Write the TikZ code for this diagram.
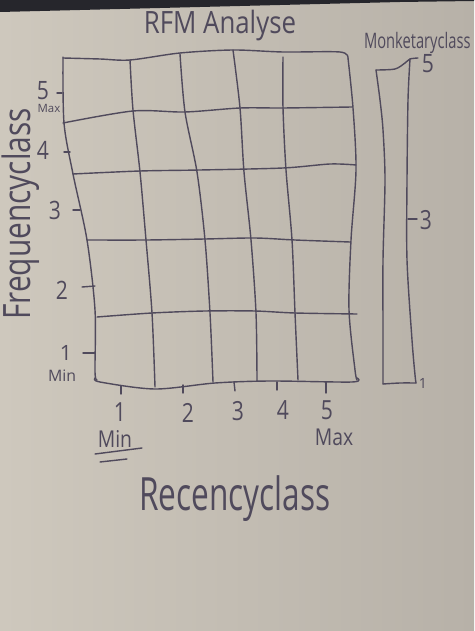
\documentclass[tikz,border=0pt]{standalone}
\usepackage{fontspec}
\usepackage{graphicx}
\setmainfont{Open Sans}
\definecolor{paperL}{RGB}{206,200,189}
\definecolor{paperR}{RGB}{183,177,168}
\definecolor{ink}{RGB}{80,74,92}
\definecolor{band}{RGB}{38,38,44}
\begin{document}
\begin{tikzpicture}[x=0.02cm,y=-0.02cm,
  pen/.style={draw=ink, line width=0.8pt, line cap=round, line join=round},
  lbl/.style={text=ink, inner sep=0pt, outer sep=0pt}]
\useasboundingbox (0,0) rectangle (474,631);
\shade[left color=paperL, right color=paperR] (0,0) rectangle (474,631);
\fill[band] (0,0) -- (474,0) -- (474,1) -- (400,2) -- (200,7) -- (0,12) -- cycle;

% title
\node[lbl, font=\fontsize{14}{16}\selectfont] (title) at (220,26) {\scalebox{1.05}[1.25]{RFM Analyse}};

% grid outline
\draw[pen] plot[smooth] coordinates {(63,58) (100,59) (130,60) (180,53) (233,50) (283,52) (340,52) (348,58)};
\draw[pen] plot[smooth] coordinates {(63,57) (64,123) (73,174) (87,240) (95,310) (95,372) (97,380)};
\draw[pen] plot[smooth] coordinates {(95,378) (100,382) (155,389) (215,383) (270,381) (352,382) (357,378)};
\draw[pen] plot[smooth] coordinates {(348,58) (353,108) (356,170) (351,240) (349,310) (355,370) (357,380)};
% horizontal grid lines
\draw[pen] plot[smooth] coordinates {(63,123) (133,111) (185,112) (240,108) (283,108) (352,107)};
\draw[pen] plot[smooth] coordinates {(73,174) (140,171) (200,170) (283,168) (330,164) (356,165)};
\draw[pen] plot[smooth] coordinates {(87,240) (146,240) (205,239) (255,238) (295,240) (350,242)};
\draw[pen] plot[smooth] coordinates {(97,317) (152,313) (205,311) (255,311) (295,313) (357,314)};
% vertical grid lines
\draw[pen] plot[smooth] coordinates {(130,60) (133,110) (140,172) (146,240) (152,313) (155,387)};
\draw[pen] plot[smooth] coordinates {(180,54) (185,112) (197,172) (205,240) (210,313) (213,382)};
\draw[pen] plot[smooth] coordinates {(233,50) (240,108) (244,172) (251,240) (256,313) (257,381)};
\draw[pen] plot[smooth] coordinates {(283,57) (283,108) (286,170) (292,240) (295,313) (298,380)};

% y ticks and labels
\coordinate (ya5) at (57,93); \coordinate (yb5) at (62,93);
\coordinate (ya4) at (64,152); \coordinate (yb4) at (70,152);
\coordinate (ya3) at (73,210); \coordinate (yb3) at (80,210);
\coordinate (ya2) at (82,287); \coordinate (yb2) at (95,286);
\coordinate (ya1) at (83,353); \coordinate (yb1) at (95,353);
\foreach \i in {1,...,5} {\draw[pen] (ya\i) -- (yb\i);}
\begin{scope}[lbl/.append style={font=\fontsize{12}{14}\selectfont}]
\node[lbl] (y5) at (43,91) {\scalebox{1}[1.2]{5}};
\node[lbl] (y4) at (43,150) {\scalebox{1}[1.2]{4}};
\node[lbl] (y3) at (55,210) {\scalebox{1}[1.2]{3}};
\node[lbl] (y2) at (62,290) {\scalebox{1}[1.2]{2}};
\node[lbl] (y1) at (66,353) {1};
\end{scope}
\node[lbl, font=\fontsize{6.5}{8}\selectfont] (ymax) at (49,108) {Max};
\node[lbl, font=\fontsize{9}{10}\selectfont] (ymin) at (62,376) {Min};

% x ticks and labels
\coordinate (xa1) at (121,386); \coordinate (xb1) at (121,394);
\coordinate (xa2) at (183,385); \coordinate (xb2) at (183,393);
\coordinate (xa3) at (234,382); \coordinate (xb3) at (235,391);
\coordinate (xa4) at (277,382); \coordinate (xb4) at (277,390);
\coordinate (xa5) at (326,382); \coordinate (xb5) at (326,393);
\foreach \i in {1,...,5} {\draw[pen] (xa\i) -- (xb\i);}
\begin{scope}[lbl/.append style={font=\fontsize{12}{14}\selectfont}]
\node[lbl] (x1) at (120,412) {\scalebox{1}[1.25]{1}};
\node[lbl] (x2) at (188,413) {\scalebox{1}[1.25]{2}};
\node[lbl] (x3) at (238,411) {\scalebox{1}[1.25]{3}};
\node[lbl] (x4) at (283,410) {\scalebox{1}[1.25]{4}};
\node[lbl] (x5) at (327,410) {\scalebox{1}[1.25]{5}};
\end{scope}
\node[lbl, font=\fontsize{11}{13}\selectfont] (xmin) at (115,439) {\scalebox{1}[1.2]{Min}};
\node[lbl, font=\fontsize{11}{13}\selectfont] (xmax) at (334,437) {\scalebox{1}[1.2]{Max}};
\coordinate (u1a) at (95,454); \coordinate (u1b) at (142,448);
\coordinate (u2a) at (100,462); \coordinate (u2b) at (127,459);
\draw[pen] (u1a) -- (u1b);
\draw[pen] (u2a) -- (u2b);

% axis titles
\node[lbl, font=\fontsize{18}{20}\selectfont] (rec) at (235,499) {\scalebox{1}[1.45]{Recencyclass}};
\node[lbl, font=\fontsize{16.5}{18}\selectfont, rotate=90] (freq) at (21,214) {\scalebox{1.03}[1.3]{Frequencyclass}};

% monetary bar
\node[lbl, font=\fontsize{9}{11}\selectfont, anchor=west] (mon) at (364,43) {\scalebox{0.93}[1.35]{Monketaryclass}};
\draw[pen] plot[smooth] coordinates {(376,70) (380,100) (383,130) (385,180) (383,260) (383,330) (383,384)};
\draw[pen] plot[smooth] coordinates {(376,70) (395,69) (405,63) (410,59) (418,58)};
\draw[pen] plot[smooth] coordinates {(410,59) (408,100) (407,180) (407,260) (412,340) (415,375) (416,383)};
\draw[pen] plot[smooth] coordinates {(383,384) (400,383) (416,383)};
\coordinate (ma3) at (408,219); \coordinate (mb3) at (417,219);
\draw[pen] (ma3) -- (mb3);
\node[lbl, font=\fontsize{12}{14}\selectfont] (m5) at (428,64) {\scalebox{1}[1.2]{5}};
\node[lbl, font=\fontsize{12}{14}\selectfont] (m3) at (426,220) {\scalebox{1}[1.25]{3}};
\node[lbl, font=\fontsize{8}{9}\selectfont] (m1) at (423,383) {1};
\end{tikzpicture}
\end{document}
